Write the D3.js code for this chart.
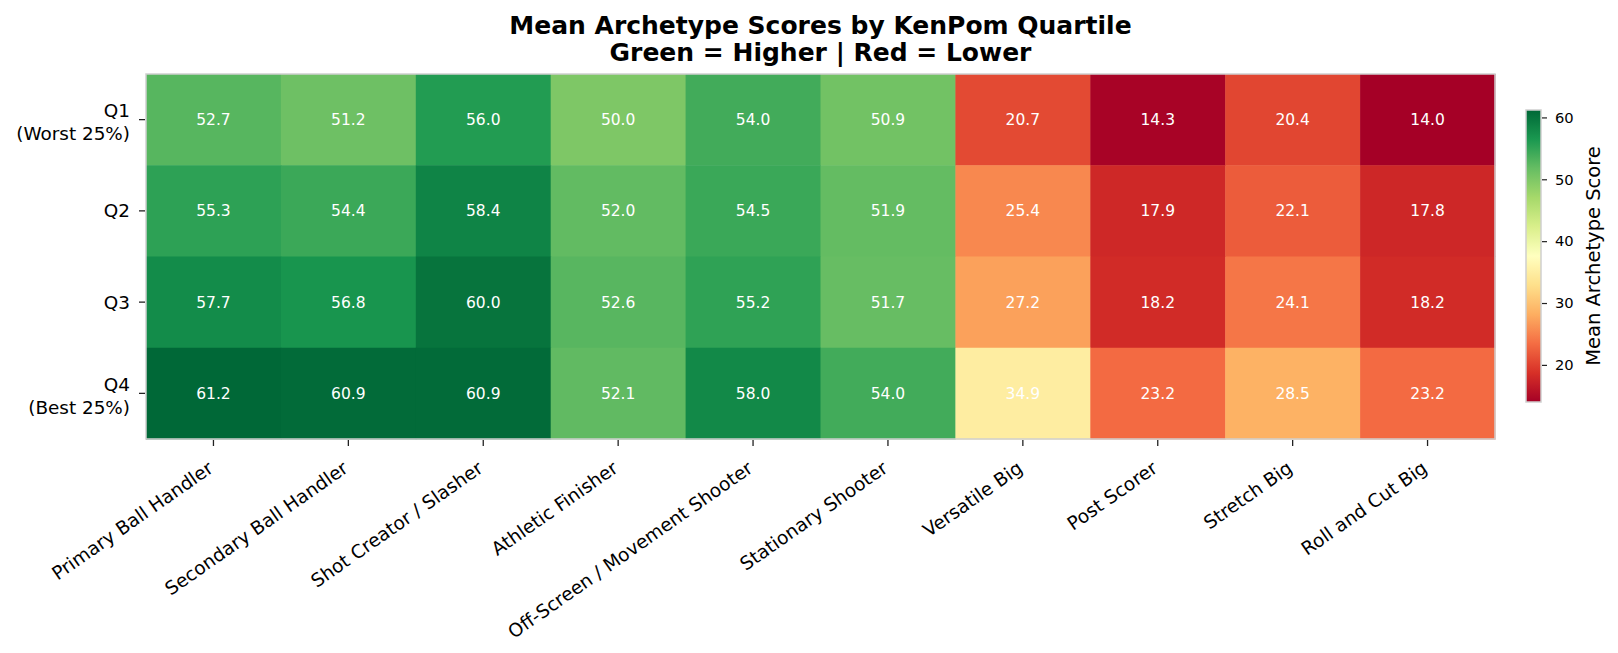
<!DOCTYPE html>
<html lang="en">
  <head>
    <meta charset="UTF-8" />
    <title>archetype scores by kenpom quartile</title>
    <style type="text/css">
      html,
      body {
        margin: 0;
        padding: 0;
        background: #fff;
        font-family: "DejaVu Sans", sans-serif;
      }

      svg text {
        fill: #000;
      }

      .cell-label {
        fill: #fff;
        font-size: 15.5px;
      }
    </style>
  </head>
  <body>
    <svg id="chart"></svg>

    <script src="https://cdn.jsdelivr.net/npm/d3@7"></script>
    <script>
      // === Data === //

      var archetypes = [
        "Primary Ball Handler",
        "Secondary Ball Handler",
        "Shot Creator / Slasher",
        "Athletic Finisher",
        "Off-Screen / Movement Shooter",
        "Stationary Shooter",
        "Versatile Big",
        "Post Scorer",
        "Stretch Big",
        "Roll and Cut Big"
      ];

      var quartiles = ["Q1", "Q2", "Q3", "Q4"];
      var quartileLabels = [
        ["Q1", "(Worst 25%)"],
        ["Q2"],
        ["Q3"],
        ["Q4", "(Best 25%)"]
      ];

      var q1Scores = [52.7, 51.2, 56.0, 50.0, 54.0, 50.9, 20.7, 14.3, 20.4, 14.0];
      var q2Scores = [55.3, 54.4, 58.4, 52.0, 54.5, 51.9, 25.4, 17.9, 22.1, 17.8];
      var q3Scores = [57.7, 56.8, 60.0, 52.6, 55.2, 51.7, 27.2, 18.2, 24.1, 18.2];
      var q4Scores = [61.2, 60.9, 60.9, 52.1, 58.0, 54.0, 34.9, 23.2, 28.5, 23.2];

      var colorbarTicks = [20, 30, 40, 50, 60];

      // === Layout === //

      var width = 1618,
        height = 653;

      var plot = { left: 146, top: 74, right: 1495, bottom: 439 };
      var bar = { left: 1526, right: 1541, top: 110, bottom: 402 };

      var svg = d3
        .select("#chart")
        .attr("width", width)
        .attr("height", height);

      // flatten rows into cells
      var rows = [q1Scores, q2Scores, q3Scores, q4Scores];
      var cells = [];
      rows.forEach(function(row, i) {
        row.forEach(function(v, j) {
          cells.push({ q: quartiles[i], a: archetypes[j], value: v });
        });
      });

      var allValues = cells.map(function(d) {
        return d.value;
      });
      var vmin = d3.min(allValues),
        vmax = d3.max(allValues);

      // matplotlib RdYlGn is a linear ramp through the 11 brewer colours
      var brewer = d3.schemeRdYlGn[11];
      var color = d3
        .scaleLinear()
        .domain(
          brewer.map(function(c, i) {
            return vmin + ((vmax - vmin) * i) / (brewer.length - 1);
          })
        )
        .range(brewer)
        .interpolate(d3.interpolateRgb)
        .clamp(true);

      var x = d3
        .scaleBand()
        .domain(archetypes)
        .range([plot.left, plot.right]);

      var y = d3
        .scaleBand()
        .domain(quartiles)
        .range([plot.top, plot.bottom]);

      // === Title === //

      var title = svg
        .append("text")
        .attr("x", (plot.left + plot.right) / 2)
        .attr("text-anchor", "middle")
        .style("font-size", "25px")
        .style("font-weight", "bold");

      title
        .append("tspan")
        .attr("x", (plot.left + plot.right) / 2)
        .attr("y", 34)
        .text("Mean Archetype Scores by KenPom Quartile");

      title
        .append("tspan")
        .attr("x", (plot.left + plot.right) / 2)
        .attr("y", 61)
        .text("Green = Higher | Red = Lower");

      // === Heatmap cells === //

      svg
        .append("g")
        .selectAll("rect")
        .data(cells)
        .join("rect")
        .attr("x", function(d) {
          return x(d.a);
        })
        .attr("y", function(d) {
          return y(d.q);
        })
        .attr("width", x.bandwidth() + 0.5)
        .attr("height", y.bandwidth() + 0.5)
        .attr("fill", function(d) {
          return color(d.value);
        });

      svg
        .append("g")
        .selectAll("text")
        .data(cells)
        .join("text")
        .attr("class", "cell-label")
        .attr("x", function(d) {
          return x(d.a) + x.bandwidth() / 2;
        })
        .attr("y", function(d) {
          return y(d.q) + y.bandwidth() / 2;
        })
        .attr("text-anchor", "middle")
        .attr("dy", "0.35em")
        .text(function(d) {
          return d.value.toFixed(1);
        });

      // frame
      svg
        .append("rect")
        .attr("x", plot.left)
        .attr("y", plot.top)
        .attr("width", plot.right - plot.left)
        .attr("height", plot.bottom - plot.top)
        .attr("fill", "none")
        .attr("stroke", "#cfcfcf")
        .attr("stroke-width", 1.5);

      // === Axes === //

      var xAxis = svg
        .append("g")
        .attr("transform", "translate(0," + (plot.bottom + 1) + ")")
        .call(
          d3
            .axisBottom(x)
            .tickSize(6)
            .tickSizeOuter(0)
        );

      xAxis.select(".domain").remove();
      xAxis.selectAll(".tick line").attr("stroke", "#222").attr("stroke-width", 1.3);
      xAxis
        .selectAll(".tick text")
        .attr("fill", "#000")
        .style("font-size", "18.6px")
        .style("font-family", "DejaVu Sans")
        .attr("text-anchor", "end")
        .attr("dy", null)
        .attr("y", null)
        .attr("transform", "translate(1,31) rotate(-35)");

      var yAxis = svg
        .append("g")
        .attr("transform", "translate(" + (plot.left - 1) + ",0)")
        .call(
          d3
            .axisLeft(y)
            .tickSize(6)
            .tickSizeOuter(0)
        );

      yAxis.select(".domain").remove();
      yAxis.selectAll(".tick line").attr("stroke", "#222").attr("stroke-width", 1.3);
      yAxis.selectAll(".tick text").remove();

      yAxis.selectAll(".tick").each(function(q, i) {
        var lines = quartileLabels[i];
        var t = d3
          .select(this)
          .append("text")
          .attr("fill", "#000")
          .attr("text-anchor", "end")
          .style("font-size", "18.4px")
          .style("font-family", "DejaVu Sans");
        if (lines.length === 1) {
          t.append("tspan")
            .attr("x", -15)
            .attr("y", 0)
            .attr("dy", "0.35em")
            .text(lines[0]);
        } else {
          t.append("tspan")
            .attr("x", -15)
            .attr("y", -2.5)
            .text(lines[0]);
          t.append("tspan")
            .attr("x", -15)
            .attr("y", 20.5)
            .text(lines[1]);
        }
      });

      // === Colorbar === //

      var cbScale = d3
        .scaleLinear()
        .domain([vmin, vmax])
        .range([bar.bottom, bar.top]);

      var grad = svg
        .append("defs")
        .append("linearGradient")
        .attr("id", "cbGrad")
        .attr("x1", 0)
        .attr("y1", 1)
        .attr("x2", 0)
        .attr("y2", 0);

      grad
        .selectAll("stop")
        .data(d3.range(0, 1.0001, 0.02))
        .join("stop")
        .attr("offset", function(t) {
          return t;
        })
        .attr("stop-color", function(t) {
          return color(vmin + t * (vmax - vmin));
        });

      svg
        .append("rect")
        .attr("x", bar.left)
        .attr("y", bar.top)
        .attr("width", bar.right - bar.left)
        .attr("height", bar.bottom - bar.top)
        .attr("fill", "url(#cbGrad)")
        .attr("stroke", "#cfcfcf")
        .attr("stroke-width", 1.5);

      var cbAxis = svg
        .append("g")
        .attr("transform", "translate(" + (bar.right + 1) + ",0)")
        .call(
          d3
            .axisRight(cbScale)
            .tickValues(colorbarTicks)
            .tickSize(5)
            .tickSizeOuter(0)
        );

      cbAxis.select(".domain").remove();
      cbAxis.selectAll(".tick line").attr("stroke", "#222").attr("stroke-width", 1.2);
      cbAxis
        .selectAll(".tick text")
        .attr("fill", "#000")
        .attr("x", 13)
        .style("font-size", "14.7px")
        .style("font-family", "DejaVu Sans");

      svg
        .append("text")
        .attr("transform", "translate(1593," + (bar.top + bar.bottom) / 2 + ") rotate(-90)")
        .attr("text-anchor", "middle")
        .attr("dy", "0.35em")
        .style("font-size", "19.5px")
        .text("Mean Archetype Score");
    </script>
  </body>
</html>
